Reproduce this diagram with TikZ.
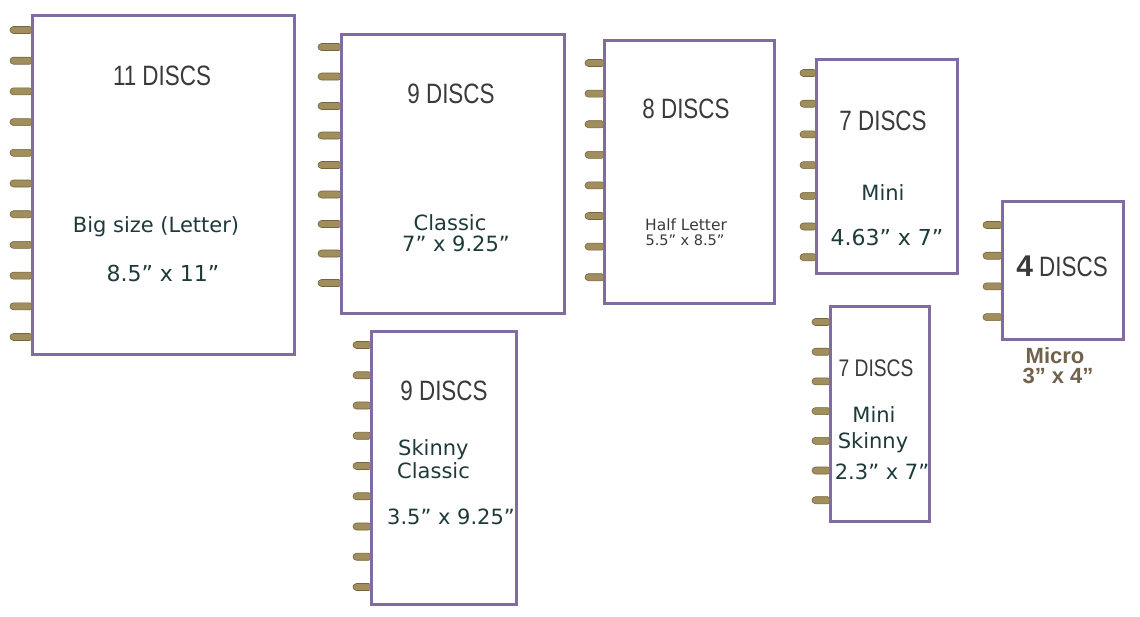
\documentclass[tikz,border=0pt]{standalone}
\usepackage{fontspec}
\setmainfont{DejaVu Sans}
\newfontfamily\discfont[FakeStretch=0.8]{Liberation Sans}
\newfontfamily\microfont{Liberation Sans}
\usetikzlibrary{positioning}

\definecolor{boxpurple}{RGB}{128,108,160}
\definecolor{discgold}{RGB}{160,142,92}
\definecolor{discdark}{RGB}{118,100,62}
\definecolor{disctext}{RGB}{58,58,58}
\definecolor{labeltext}{RGB}{30,58,58}
\definecolor{microtext}{RGB}{112,98,76}

\tikzset{
  notebook/.style={draw=boxpurple, line width=3pt, fill=white, inner sep=0pt, anchor=north west},
  disc/.style={fill=discgold, draw=discdark, line width=0.6pt, rounded corners=3.5pt},
  discs/.style={font=\discfont\fontsize{28}{30}\selectfont, text=disctext, anchor=base, inner sep=0pt},
  sizelabel/.style={font=\fontsize{21}{20}\selectfont, text=labeltext, anchor=base, inner sep=0pt},
  microlabel/.style={font=\microfont\bfseries\fontsize{22}{20}\selectfont, text=microtext, anchor=base, inner sep=0pt}
}

\begin{document}
\begin{tikzpicture}[x=1pt, y=-1pt]
    \useasboundingbox[fill=white] (0,0) rectangle (1140,616);
    % discs on the left edge of each notebook
    \foreach \xa/\xb/\ya/\gap/\last in {10/33/30/30.7/10, 318/342/47/29.5/8, 585/605/63/30.6/7, 800/817/73/30.7/6, 983/1003/225/30.7/3, 812/831/322/29.7/6, 353/372/345/30.25/8}
        \foreach \i in {0,...,\last}
            \draw[disc] (\xa,{\ya+\gap*\i-3.5}) rectangle (\xb,{\ya+\gap*\i+3.5});
    % notebooks
    \node[notebook, minimum width=262pt, minimum height=339pt] (big) at (31,14) {};
    \node[notebook, minimum width=223pt, minimum height=279pt] (classic) at (340,33) {};
    \node[notebook, minimum width=170pt, minimum height=263pt] (half) at (603,39) {};
    \node[notebook, minimum width=141pt, minimum height=214pt] (mini) at (815,58) {};
    \node[notebook, minimum width=121pt, minimum height=138pt] (micro) at (1001,200) {};
    \node[notebook, minimum width=99pt, minimum height=215pt] (miniskinny) at (829,305) {};
    \node[notebook, minimum width=145pt, minimum height=273pt] (skinny) at (370,330) {};
    % big size
    \node[discs] (bigdiscs) at (162,85) {11 DISCS};
    \node[sizelabel] (bigname) at (156,232) {Big size (Letter)};
    \node[sizelabel, font=\fontsize{22}{20}\selectfont] (bigsize) at (163,281) {8.5” x 11”};
    % classic
    \node[discs] (classicdiscs) at (451,103) {9 DISCS};
    \node[sizelabel] (classicname) at (450,230) {Classic};
    \node[sizelabel] (classicsize) at (456,251) {7” x 9.25”};
    % half letter
    \node[discs] (halfdiscs) at (686,118) {8 DISCS};
    \node[sizelabel, font=\fontsize{15.5}{16}\selectfont, text=disctext] (halfname) at (686,230) {Half Letter};
    \node[sizelabel, font=\fontsize{14.5}{16}\selectfont, text=disctext] (halfsize) at (685,245) {5.5” x 8.5”};
    % mini
    \node[discs] (minidiscs) at (883,130) {7 DISCS};
    \node[sizelabel] (mininame) at (883,200) {Mini};
    \node[sizelabel, font=\fontsize{22}{20}\selectfont] (minisize) at (887,245) {4.63” x 7”};
    % micro
    \node[discs] (microdiscs) at (1062,276) {{\microfont\bfseries\fontsize{30}{30}\selectfont 4} DISCS};
    \node[microlabel] (microname) at (1055,363) {Micro};
    \node[microlabel] (microsize) at (1058,383) {3” x 4”};
    % mini skinny
    \node[discs, font=\discfont\fontsize{24}{26}\selectfont] (miniskinnydiscs) at (876,376) {7 DISCS};
    \node[sizelabel] (miniskinnyname) at (874,422) {Mini};
    \node[sizelabel] (miniskinnyname2) at (873,448) {Skinny};
    \node[sizelabel] (miniskinnysize) at (882,479) {2.3” x 7”};
    % skinny classic
    \node[discs] (skinnydiscs) at (444,400) {9 DISCS};
    \node[sizelabel, anchor=base west] (skinnyname) at (398,455) {Skinny};
    \node[sizelabel, anchor=base west] (skinnyname2) at (397,478) {Classic};
    \node[sizelabel] (skinnysize) at (451,524) {3.5” x 9.25”};
\end{tikzpicture}
\end{document}
